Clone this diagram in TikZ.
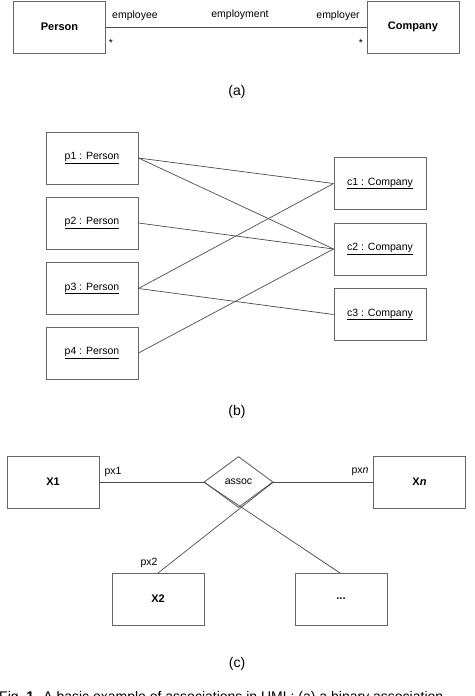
\documentclass[tikz,border=0pt]{standalone}
\usepackage{fontspec}
\setmainfont{Liberation Sans}
\usetikzlibrary{shapes.geometric}
\begin{document}
\begin{tikzpicture}[x=1pt,y=-1pt,
  box/.style={draw=black!60,line width=0.9pt,minimum width=92pt,minimum height=52pt,inner sep=0pt,font=\fontsize{11}{13}\selectfont\bfseries},
  obox/.style={box,font=\fontsize{10.5}{12}\selectfont},
  conn/.style={draw=black!70,line width=0.7pt},
  lbl/.style={inner sep=0pt,font=\fontsize{10.5}{12}\selectfont},
  sub/.style={inner sep=0pt,font=\fontsize{14}{16}\selectfont}]
\useasboundingbox (0,0) rectangle (474,696);
% (a)
\node[box] (person) at (59.5,27) {Person};
\node[box] (company) at (413,27) {Company};
\draw[conn] (person.east) -- (company.west);
\node[lbl] (l1) at (135,16) {employee};
\node[lbl] (l2) at (240,15) {employment};
\node[lbl] (l3) at (338,16) {employer};
\node[lbl] (s1) at (111,43) {*};
\node[lbl] (s2) at (361,43) {*};
\node[sub] (a) at (237,92) {(a)};
% (b)
\node[obox] (p1) at (92,158) {\underline{p1 : Person}};
\node[obox] (p2) at (92,223) {\underline{p2 : Person}};
\node[obox] (p3) at (92,288.5) {\underline{p3 : Person}};
\node[obox] (p4) at (92,353) {\underline{p4 : Person}};
\node[obox] (c1) at (380,183.5) {\underline{c1 : Company}};
\node[obox] (c2) at (380,249) {\underline{c2 : Company}};
\node[obox] (c3) at (380,314.5) {\underline{c3 : Company}};
\draw[conn] (p1.east) -- (c1.west);
\draw[conn] (p1.east) -- (c2.west);
\draw[conn] (p2.east) -- (c2.west);
\draw[conn] (p3.east) -- (c1.west);
\draw[conn] (p3.east) -- (c3.west);
\draw[conn] (p4.east) -- (c2.west);
\node[sub] (b) at (237,412) {(b)};
% (c)
\node[box] (x1) at (53,482) {X1};
\node[box] (xn) at (419.5,482) {X\textit{n}};
\node[box] (x2) at (158,599) {X2};
\node[box] (xd) at (341,599) {...};
\node[draw=black!60,line width=0.9pt,diamond,minimum width=69pt,minimum height=51pt,inner sep=0pt,aspect=1.35,font=\fontsize{10.5}{12}\selectfont] (as) at (238.5,482) {assoc};
\draw[conn] (x1.east) -- (as.west);
\draw[conn] (as.east) -- (xn.west);
\coordinate (x2t) at (158,573);
\coordinate (xdt) at (340,573);
\draw[conn] (as.east) -- (x2t);
\draw[conn] (as.west) -- (xdt);
\node[lbl] (q1) at (113,472) {px1};
\node[lbl] (qn) at (360,472) {px\textit{n}};
\node[lbl] (q2) at (149,563) {px2};
\node[sub] (c) at (237,664) {(c)};
\node[anchor=base west,inner sep=0pt,font=\fontsize{14}{16}\selectfont] (cap) at (-1,701) {Fig.~\textbf{1.} A basic example of associations in UML: (a) a binary association};
\end{tikzpicture}
\end{document}
